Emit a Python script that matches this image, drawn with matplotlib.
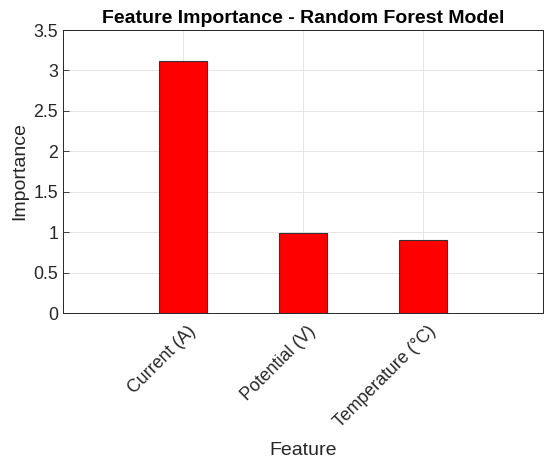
import matplotlib
matplotlib.use("Agg")
import matplotlib.pyplot as plt
from matplotlib.transforms import ScaledTranslation

features = ["Current (A)", "Potential (V)", "Temperature (°C)"]
importance = [3.12, 0.99, 0.90]

plt.rcParams.update({
    "font.family": ["Liberation Sans", "DejaVu Sans"],
    "font.size": 11,
})

fig = plt.figure(figsize=(5.5, 4.62), dpi=100)
ax = fig.add_axes([63 / 550, 1 - 313 / 462, 480 / 550, 283 / 462])

x = list(range(1, len(features) + 1))
ax.bar(x, importance, width=0.4, color="#ff0000", edgecolor="#333333",
       linewidth=0.8, zorder=3)

ax.set_xlim(0, 4)
ax.set_ylim(0, 3.5)
ax.set_xticks(x)
ax.set_xticklabels([])
# rotated labels placed the way MATLAB does (right-middle anchor, a bit right)
shift = ScaledTranslation(0.10, -0.16, fig.dpi_scale_trans)
for xi, name in zip(x, features):
    ax.text(xi, 0, name, transform=ax.get_xaxis_transform() + shift,
            rotation=45, ha="right", va="center", rotation_mode="anchor",
            fontsize=12.8, color="#262626")
ax.set_yticks([0, 0.5, 1, 1.5, 2, 2.5, 3, 3.5])
ax.set_yticklabels(["0", "0.5", "1", "1.5", "2", "2.5", "3", "3.5"])
ax.tick_params(direction="in", length=4, width=0.6, colors="#262626",
               top=False, right=True, labelsize=12.8)
ax.grid(True, color="#e6e6e6", linewidth=0.7, zorder=0)
for s in ax.spines.values():
    s.set_color("#262626")
    s.set_linewidth(0.7)

ax.set_xlabel("Feature", fontsize=14, color="#262626", labelpad=0)
ax.xaxis.set_label_coords(0.5, -0.455)
ax.set_ylabel("Importance", fontsize=14, color="#262626", labelpad=4)
ax.set_title("Feature Importance - Random Forest Model", fontsize=14,
             fontweight="bold", pad=5)

fig.savefig("out.png", dpi=100)
